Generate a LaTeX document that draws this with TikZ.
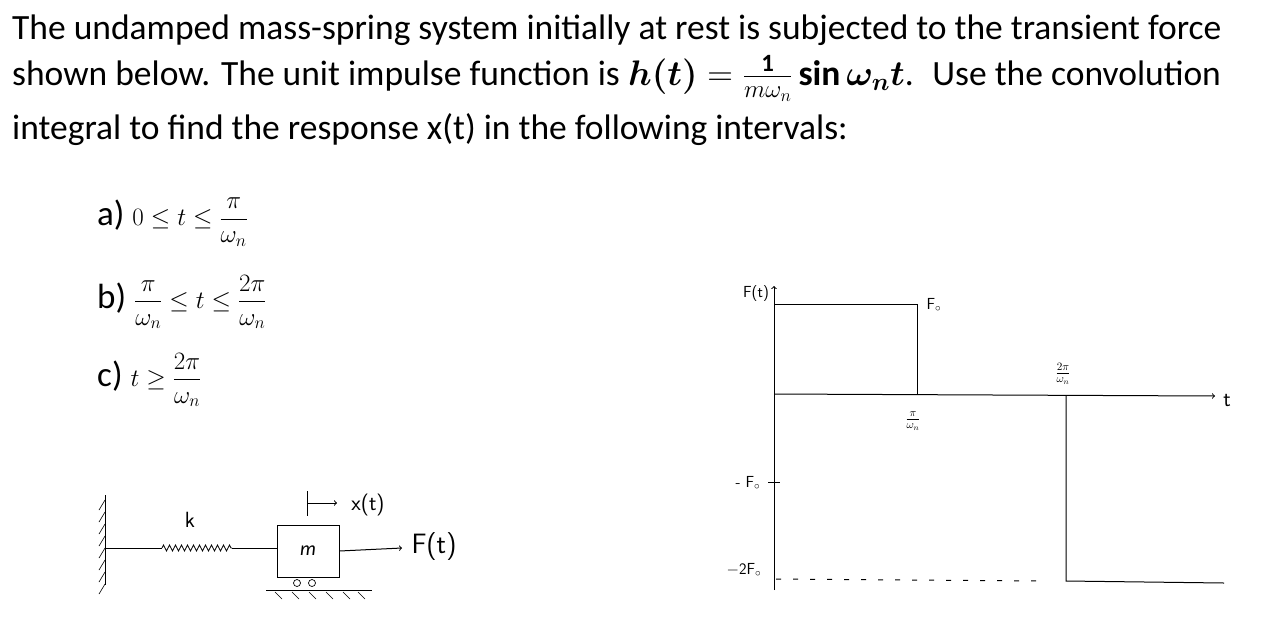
\documentclass[tikz,border=0pt]{standalone}
\usepackage{fix-cm}
\usepackage{amsmath}
\usepackage{fontspec}
\setmainfont{Carlito}
\usetikzlibrary{decorations.pathmorphing}
\newcommand{\qm}[1]{{\fontsize{25}{26}\selectfont$\displaystyle #1$}}
\begin{document}
\begin{tikzpicture}[x=1pt,y=-1pt,
  ln/.style={line width=1pt,black},
  hand/.style={font=\fontsize{16}{16}\selectfont\sffamily},
  txt/.style={anchor=west,font=\fontsize{35.5}{36}\selectfont,inner sep=0pt},
  lbl/.style={anchor=west,font=\fontsize{35}{36}\selectfont,inner sep=0pt}]
\useasboundingbox (0,0) rectangle (1280,622);
\node[txt] (l1) at (12,30) {The undamped mass-spring system initially at rest is subjected to the transient force};
\node[txt] (l2) at (12,78) {shown below. The unit impulse function is $\boldsymbol{h(t)}=\frac{\mathbf 1}{m\omega_n}\,\mathbf{sin}\,\boldsymbol{\omega_n t}$. \ Use the convolution};
\node[txt] (l3) at (12,130) {integral to find the response x(t) in the following intervals:};
\node[lbl] (qa) at (97,222) {a) \qm{0\le t\le\frac{\pi}{\omega_n}}};
\node[lbl] (qb) at (97,302) {b) \qm{\frac{\pi}{\omega_n}\le t\le\frac{2\pi}{\omega_n}}};
\node[lbl] (qc) at (97,380) {c) \qm{t\ge\frac{2\pi}{\omega_n}}};
% graph
\draw[ln,->] (774,590) -- (774,286);
\draw[ln,->] (774,394) -- (1215,396);
\draw[ln] (774,304) -- (917,304) -- (917,394);
\draw[ln] (1066,396) -- (1066,581) -- (1224,583);
\draw[ln,dashed,dash pattern=on 5pt off 12pt] (776,579) -- (1046,581);
\draw[ln] (768,482) -- (780,482);
\node[hand] (ft) at (756,294) {F(t)};
\node[hand] (f0) at (934,305) {F$_\circ$};
\node[hand] (p1) at (913,421) {$\frac{\pi}{\omega_n}$};
\node[hand] (p2) at (1063,374) {$\frac{2\pi}{\omega_n}$};
\node[hand,font=\fontsize{22}{22}\selectfont\sffamily] (tt) at (1227,400) {t};
\node[hand] (mf) at (748,483) {- F$_\circ$};
\node[hand] (m2f) at (744,570) {$-$2F$_\circ$};
% mass spring
\draw[ln] (105,495) -- (105,585);
\foreach \yy in {500,512,...,584} \draw[line width=0.6pt] (105,\yy) -- (99,\yy+10);
\draw[ln] (105,548) -- (162,548);
\draw[line width=0.8pt,decorate,decoration={zigzag,segment length=6pt,amplitude=3pt}] (162,548) -- (232,548);
\draw[ln] (232,548) -- (278,548);
\node[draw,line width=1pt,minimum width=62pt,minimum height=52pt,hand,font=\fontsize{20}{20}\selectfont\itshape] (m) at (308,551) {m};
\draw[line width=0.7pt] (297,583) circle (3.5pt) (312,583) circle (3.5pt);
\draw[ln] (266,590) -- (372,590);
\foreach \xx in {275,292,309,326,343,358} \draw[line width=0.6pt] (\xx,592) -- (\xx+7,599);
\node[hand,font=\fontsize{22}{22}\selectfont\sffamily] (k) at (190,520) {k};
\draw[ln] (307,491) -- (307,516);
\draw[ln,->] (307,503) -- (337,503);
\node[hand,font=\fontsize{22}{22}\selectfont\sffamily] (xt) at (368,505) {x(t)};
\draw[ln,->] (m.east) -- (402,548);
\node[hand,font=\fontsize{28}{28}\selectfont\sffamily] (Ft) at (434,547) {F(t)};
\end{tikzpicture}
\end{document}
